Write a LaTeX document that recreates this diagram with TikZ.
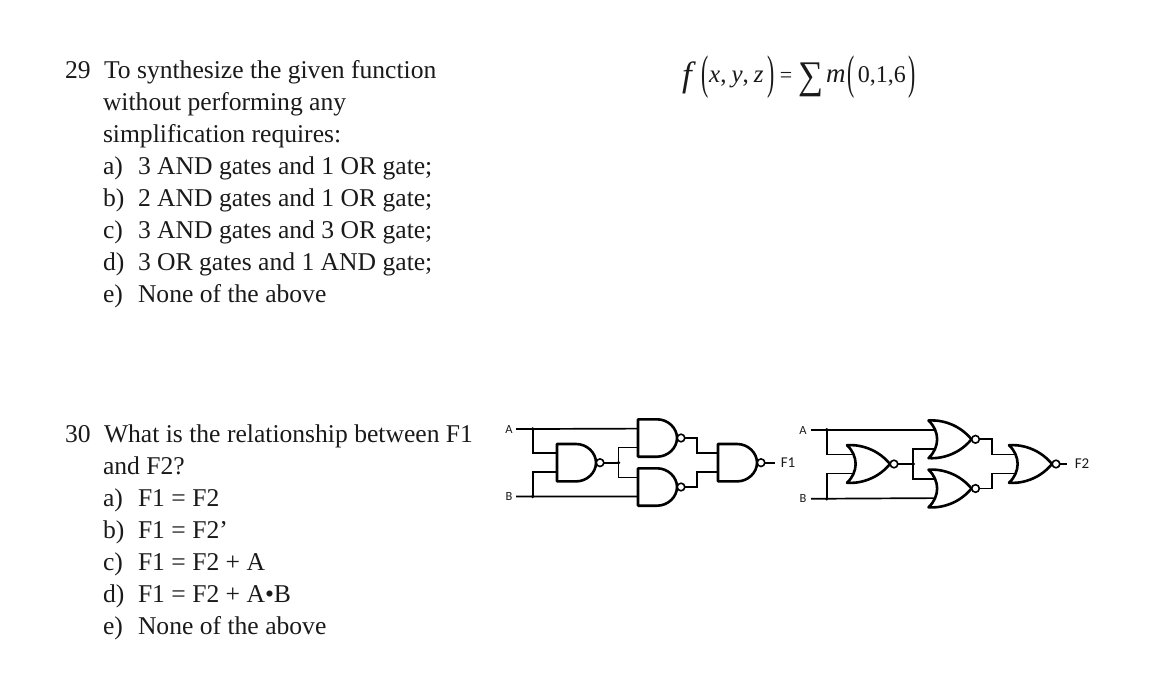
\documentclass[tikz,border=0pt]{standalone}
\usepackage{fontspec}
\setmainfont{Liberation Serif}
\newfontfamily\lblfont{Carlito}
\usetikzlibrary{calc}
\definecolor{ink}{HTML}{1A1A1A}
\newcommand{\bigparL}{\raisebox{-5.5pt}{\scalebox{.8}[1.75]{(}}}
\newcommand{\bigparR}{\raisebox{-5.5pt}{\scalebox{.8}[1.75]{)}}}
\tikzset{
  x=1pt,y=-1pt,
  qtext/.style={anchor=base west,inner sep=0pt,outer sep=0pt,text=ink,font=\fontsize{25.6}{25.6}\selectfont},
  wirelbl/.style={inner sep=0pt,outer sep=0pt,text=ink},
  wire/.style={line width=1.7pt,draw=black},
  gateline/.style={line width=2.6pt,draw=black,line join=round},
  bubble/.style={line width=1.6pt,draw=black,fill=white},
  dotj/.style={fill=black,draw=none},
  nandgate/.pic={
    \draw[gateline] (19,-18.7) -- (0,-18.7) -- (0,18.7) -- (19,18.7) .. controls (30,18.7) and (39,10) .. (39,0) .. controls (39,-10) and (30,-18.7) .. (19,-18.7) -- cycle;
    \draw[bubble] (43,0) circle[radius=3.8];
    \coordinate (-in1) at (0,-9.4);
    \coordinate (-in2) at (0,9.4);
    \coordinate (-out) at (46.8,0);
  },
  norgate/.pic={
    \draw[gateline] (0,-18.8) .. controls (8,-19.5) and (28,-18) .. (43,0) .. controls (28,18) and (8,19.5) .. (0,18.8) .. controls (11.5,8) and (11.5,-8) .. (0,-18.8) -- cycle;
    \draw[bubble] (47,0) circle[radius=3.8];
    \coordinate (-in1) at (6,-9.6);
    \coordinate (-in2) at (6,9.6);
    \coordinate (-out) at (50.8,0);
  }
}
\begin{document}
\begin{tikzpicture}
\useasboundingbox (0,0) rectangle (1172,695);
% question 29
\node[qtext] (q29) at (65,78.6) {29};
\node[qtext] (l1) at (104,78.6) {To synthesize the given function};
\node[qtext] (l2) at (103,110.6) {without performing any};
\node[qtext] (l3) at (103,142.6) {simplification requires:};
\node[qtext] (a1) at (103,174.6) {a)};\node[qtext] (a1t) at (138,174.6) {3 AND gates and 1 OR gate;};
\node[qtext] (b1) at (103,206.6) {b)};\node[qtext] (b1t) at (138,206.6) {2 AND gates and 1 OR gate;};
\node[qtext] (c1) at (103,238.6) {c)};\node[qtext] (c1t) at (138,238.6) {3 AND gates and 3 OR gate;};
\node[qtext] (d1) at (103,270.6) {d)};\node[qtext] (d1t) at (138,270.6) {3 OR gates and 1 AND gate;};
\node[qtext] (e1) at (103,302.6) {e)};\node[qtext] (e1t) at (138,302.6) {None of the above};
% formula
\node[anchor=base west,inner sep=0pt,text=ink,font=\fontsize{27}{27}\selectfont] (fm) at (682,83)
 {\raisebox{-4pt}{\scalebox{1.3}{\textit{f}}}\kern5pt\bigparL\kern1pt{\fontsize{25}{25}\selectfont\textit{x},\kern5pt\textit{y},\kern5pt\textit{z}}\kern4pt\bigparR\kern5pt{\fontsize{22}{22}\selectfont=}\kern6pt\raisebox{-6pt}{\scalebox{1.3}[1.45]{∑}}\kern3pt\textit{m}\kern2pt\bigparL\kern3pt{\fontsize{24}{24}\selectfont 0,1,6}\kern3pt\bigparR};
% question 30
\node[qtext] (q30) at (65,442.4) {30};
\node[qtext] (m1) at (104,442.4) {What is the relationship between F1};
\node[qtext] (m2) at (103,474.4) {and F2?};
\node[qtext] (a2) at (103,506.4) {a)};\node[qtext] (a2t) at (138,506.4) {F1 = F2};
\node[qtext] (b2) at (103,538.4) {b)};\node[qtext] (b2t) at (138,538.4) {F1 = F2’};
\node[qtext] (c2) at (103,570.4) {c)};\node[qtext] (c2t) at (138,570.4) {F1 = F2 + A};
\node[qtext] (d2) at (103,602.4) {d)};\node[qtext] (d2t) at (138,602.4) {F1 = F2 + A•B};
\node[qtext] (e2) at (103,634.4) {e)};\node[qtext] (e2t) at (138,634.4) {None of the above};
% circuit F1
\node[wirelbl,font=\lblfont\fontsize{12.5}{12.5}\selectfont] (A1) at (509,429) {A};
\node[wirelbl,font=\lblfont\fontsize{12.5}{12.5}\selectfont] (B1) at (509,496.5) {B};
\node[wirelbl,font=\lblfont\fontsize{15}{15}\selectfont] (F1) at (788,463) {F1};
\pic (n1) at (557,462.7) {nandgate};
\pic (n2) at (638,438) {nandgate};
\pic (n3) at (638,487) {nandgate};
\pic (n4) at (718,462.7) {nandgate};
\coordinate (ja) at (532.7,429);
\coordinate (jb) at (532.7,496.5);
\coordinate (jm) at (618.5,462.7);
\coordinate (wa) at (516,429);
\coordinate (wb) at (516,496.5);
\coordinate (fo) at (775,462.7);
\coordinate (ou) at (696.7,438);
\coordinate (od) at (696.7,487);
\draw[wire] (wa) -- (ja) -- (n2-in1);
\draw[wire] (wb) -- (jb) -- (n3-in2);
\draw[wire] (ja) |- (n1-in1);
\draw[wire] (jb) |- (n1-in2);
\draw[wire] (n1-out) -- (jm);
\draw[wire] (jm) |- (n2-in2);
\draw[wire] (jm) |- (n3-in1);
\draw[wire] (n2-out) -- (ou) |- (n4-in1);
\draw[wire] (n3-out) -- (od) |- (n4-in2);
\draw[wire] (n4-out) -- (fo);
\fill[dotj] (ja) circle[radius=1.9] (jb) circle[radius=1.9] (jm) circle[radius=1.9];
% circuit F2
\node[wirelbl,font=\lblfont\fontsize{12.5}{12.5}\selectfont] (A2) at (803,430) {A};
\node[wirelbl,font=\lblfont\fontsize{12.5}{12.5}\selectfont] (B2) at (803,498.7) {B};
\node[wirelbl,font=\lblfont\fontsize{15}{15}\selectfont] (F2) at (1082,463.5) {F2};
\pic (r1) at (847,464) {norgate};
\pic (r2) at (928.5,439.3) {norgate};
\pic (r3) at (928.5,488.5) {norgate};
\pic (r4) at (1009,464) {norgate};
\coordinate (ka) at (826.7,429.7);
\coordinate (kb) at (826.7,498.7);
\coordinate (km) at (913.3,464);
\coordinate (xa) at (811,429.7);
\coordinate (xb) at (811,498.7);
\coordinate (go) at (1067,464);
\coordinate (pu) at (992.3,439.3);
\coordinate (pd) at (992.3,488.5);
\draw[wire] (xa) -- (ka) -- (r2-in1);
\draw[wire] (xb) -- (kb) -- (r3-in2);
\draw[wire] (ka) |- (r1-in1);
\draw[wire] (kb) |- (r1-in2);
\draw[wire] (r1-out) -- (km);
\draw[wire] (km) |- (r2-in2);
\draw[wire] (km) |- (r3-in1);
\draw[wire] (r2-out) -- (pu) |- (r4-in1);
\draw[wire] (r3-out) -- (pd) |- (r4-in2);
\draw[wire] (r4-out) -- (go);
\fill[dotj] (ka) circle[radius=1.9] (kb) circle[radius=1.9] (km) circle[radius=1.9];
\end{tikzpicture}
\end{document}
